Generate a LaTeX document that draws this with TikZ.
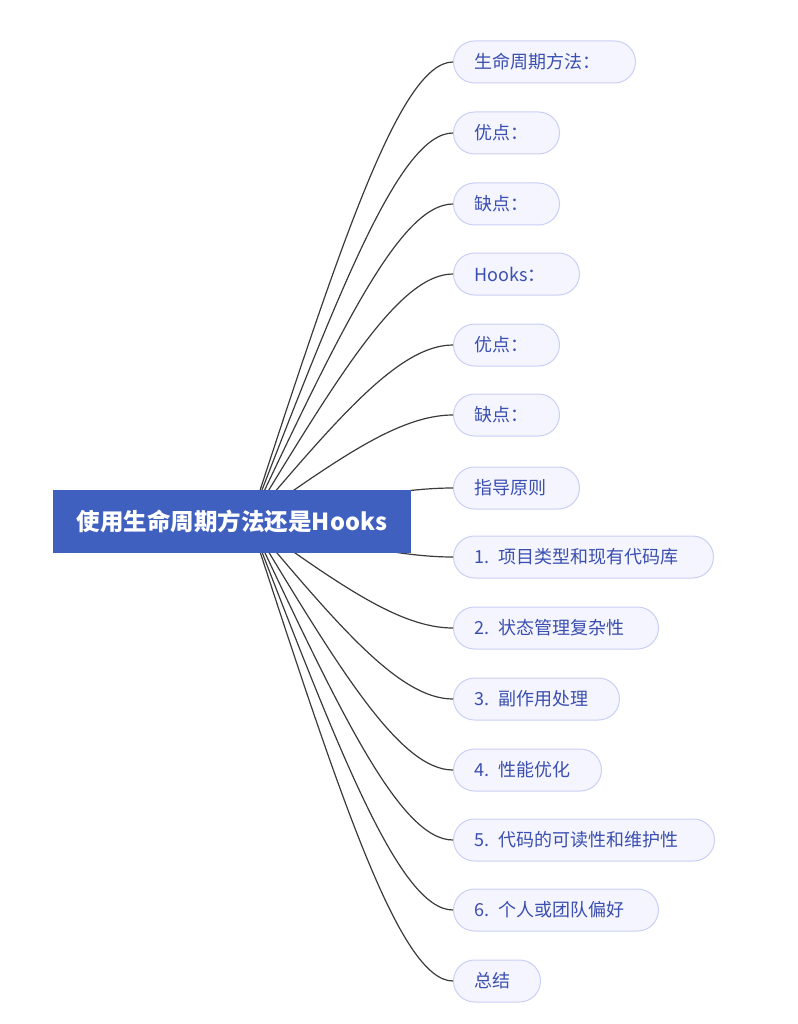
\documentclass[tikz,border=0pt]{standalone}
\usepackage{fontspec}
\setmainfont{Noto Sans CJK SC}
\begin{document}
\begin{tikzpicture}[x=1pt,y=-1pt,
  child/.style={draw=cborder,fill=cfill,rounded corners=21pt,minimum height=42pt,line width=1pt,text=ctext,font=\fontsize{18}{20}\selectfont,anchor=west,inner xsep=21pt},
  conn/.style={draw=cline,line width=1.2pt}]
\definecolor{cborder}{HTML}{C9CFF5}
\definecolor{cfill}{HTML}{F4F5FE}
\definecolor{ctext}{HTML}{3B4FB0}
\definecolor{cline}{HTML}{3A3A3A}
\definecolor{croot}{HTML}{4060C0}
\useasboundingbox (0,0) rectangle (797,1024);
\coordinate (s) at (250,521);
\foreach \i/\y/\w/\t in {1/62/180/生命周期方法：,2/133/104/优点：,3/204/104/缺点：,4/274/124/Hooks：,5/345/104/优点：,6/415/104/缺点：,7/488/124/指导原则,8/557/258/1. 项目类型和现有代码库,9/628/203/2. 状态管理复杂性,10/699/164/3. 副作用处理,11/770/146/4. 性能优化,12/840/259/5. 代码的可读性和维护性,13/910/203/6. 个人或团队偏好,14/981/85/总结}{
  \node[child,minimum width=\w pt,text width=\w pt-40pt,align=left] (c\i) at (453,\y) {\t};
  \draw[conn] (s) .. controls (340,{521+(\y-521)*0.6}) and (400,\y) .. (c\i.west);
}
\node[fill=croot,minimum width=358pt,minimum height=63pt,text=white,font=\fontsize{23.5}{26}\selectfont\bfseries] (root) at (232,521.5) {使用生命周期方法还是Hooks};
\end{tikzpicture}
\end{document}
